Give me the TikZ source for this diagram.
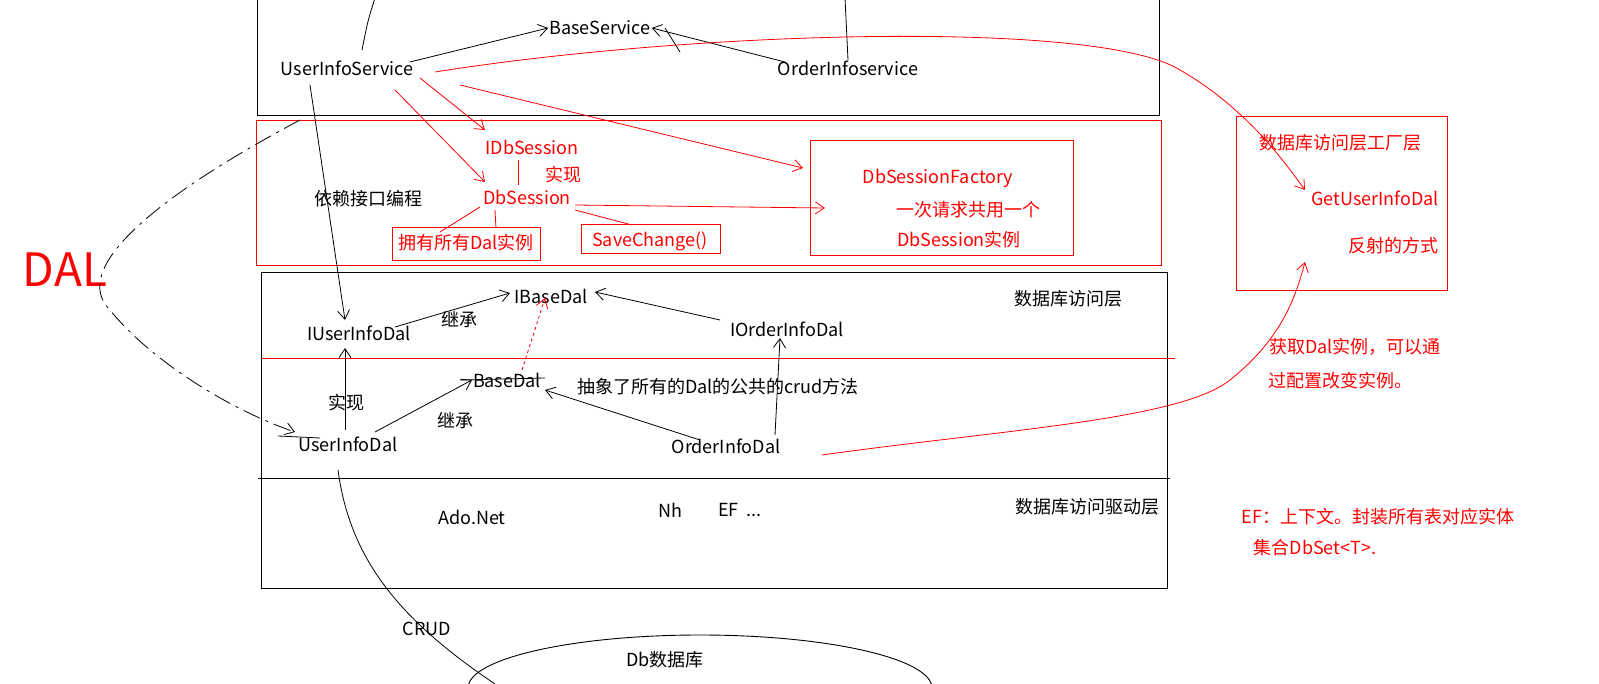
\documentclass[tikz,border=0pt]{standalone}
\usepackage{fontspec}
\setmainfont{Noto Sans CJK SC}
\usetikzlibrary{arrows.meta}
\begin{document}
\begin{tikzpicture}[x=1pt,y=-1pt,
  t/.style={font=\fontsize{18}{20}\selectfont,inner sep=1pt},
  rt/.style={t,text=red},
  ar/.style={-{Straight Barb[length=9pt,width=12pt]},line width=0.8pt},
  bl/.style={ar,black},
  rd/.style={ar,red}]
\useasboundingbox (0,0) rectangle (1599,684);
\fill[white] (0,0) rectangle (1599,684);
% boxes
\draw[line width=0.9pt] (257,-2) rectangle (1159,115);
\draw[red,line width=0.9pt] (256,120) rectangle (1161,265);
\draw[line width=0.9pt] (261,272) rectangle (1167,588);
\draw[line width=0.9pt] (258,478) -- (1170,478);
\draw[red,line width=0.7pt] (261,358) -- (1175,358);
\draw[red,line width=0.9pt] (1236,116) rectangle (1447,290);
\draw[red,line width=0.9pt] (810,140) rectangle (1073,255);
\draw[red,line width=0.9pt] (392,227) rectangle (540,260);
\draw[red,line width=0.9pt] (581,224) rectangle (720,253);
\draw[line width=0.9pt] (700,688) ellipse (232 and 53);
% texts
\node[t] (bs) at (600,28) {BaseService};
\node[t] (uis) at (347,68) {UserInfoService};
\node[t] (ois) at (848,68) {OrderInfoservice};
\node[rt] (ids) at (532,147) {IDbSession};
\node[rt] (sx1) at (563,175) {实现};
\node[rt] (ds) at (527,197) {DbSession};
\node[t] (yl) at (368,199) {依赖接口编程};
\node[rt] (dsf) at (938,178) {DbSessionFactory};
\node[rt] (yc) at (968,210) {一次请求共用一个};
\node[rt] (dsi) at (959,240) {DbSession实例};
\node[rt] (yy) at (466,243) {拥有所有Dal实例};
\node[rt] (sc) at (650,241) {SaveChange()};
\node[rt] (gc) at (1340,143) {数据库访问层工厂层};
\node[rt] (gu) at (1375,198) {GetUserInfoDal};
\node[rt] (fs) at (1393,246) {反射的方式};
\node[t] (ibd) at (551,296) {IBaseDal};
\node[t] (sjc) at (1068,299) {数据库访问层};
\node[t] (iud) at (359,333) {IUserInfoDal};
\node[t] (jc1) at (459,320) {继承};
\node[t] (iod) at (787,329) {IOrderInfoDal};
\node[rt] (hq1) at (1355,347) {获取Dal实例，可以通};
\node[rt] (hq2) at (1340,381) {过配置改变实例。};
\node[t] (bd) at (507,380) {BaseDal};
\node[t] (cx) at (718,387) {抽象了所有的Dal的公共的crud方法};
\node[t] (sx2) at (346,403) {实现};
\node[t] (jc2) at (455,421) {继承};
\node[t] (ud) at (348,444) {UserInfoDal};
\node[t] (od) at (726,446) {OrderInfoDal};
\node[t] (ado) at (472,517) {Ado.Net};
\node[t] (nh) at (670,510) {Nh};
\node[t] (ef) at (740,510) {EF\ \ ...};
\node[t] (qd) at (1087,507) {数据库访问驱动层};
\node[rt] (ef1) at (1378,517) {EF：上下文。封装所有表对应实体};
\node[rt] (ef2) at (1315,548) {集合DbSet<T>.};
\node[t] (crud) at (427,629) {CRUD};
\node[t] (db) at (665,660) {Db数据库};
\node[red,font=\fontsize{46}{50}\selectfont,inner sep=0pt] (dal) at (65,270) {DAL};
% black connectors
\draw[bl] (410,62) -- (bs.west);
\draw[bl] (785,62) -- (bs.east);
\draw[line width=0.8pt] (680,52) -- (665,28);
\draw[line width=0.8pt] (375,-2) .. controls (368,20) .. (362,50);
\draw[line width=0.8pt] (845,-2) -- (848,60);
\draw[bl] (310,85) -- (345,320);
\draw[bl] (720,320) -- (595,292);
\draw[bl] (395,327) -- (510,293);
\draw[bl] (345,430) -- (345,348);
\draw[bl] (375,432) -- (472,380);
\draw[line width=0.8pt] (460,380) -- (545,378);
\draw[bl] (700,440) -- (545,390);
\draw[bl] (775,435) -- (780,338);
\draw[line width=0.8pt] (278,436) -- (320,438);
\draw[line width=0.8pt] (338,470) .. controls (350,560) and (400,620) .. (495,684);
\draw[bl,dash pattern=on 18pt off 6pt on 3pt off 6pt] (300,120) .. controls (150,200) and (70,270) .. (110,310)
   .. controls (150,360) and (230,410) .. (295,432);
% red connectors
\draw[rd] (420,78) -- (485,130);
\draw[rd] (395,90) -- (485,182);
\draw[rd] (460,85) -- (803,168);
\draw[rd] (435,72) .. controls (700,30) and (1100,20) .. (1180,70) .. controls (1250,110) and (1290,170) .. (1305,190);
\draw[red,line width=0.8pt] (518,185) -- (518,160);
\draw[rd] (575,205) -- (825,208);
\draw[red,line width=0.8pt] (480,207) -- (440,232);
\draw[red,line width=0.8pt] (495,210) -- (496,228);
\draw[red,line width=0.8pt] (575,210) -- (632,225);
\draw[rd] (822,455) .. controls (1000,430) and (1180,420) .. (1230,380) .. controls (1280,340) and (1295,300) .. (1305,262);
\draw[rd,dashed] (522,370) -- (545,298);
\end{tikzpicture}
\end{document}
